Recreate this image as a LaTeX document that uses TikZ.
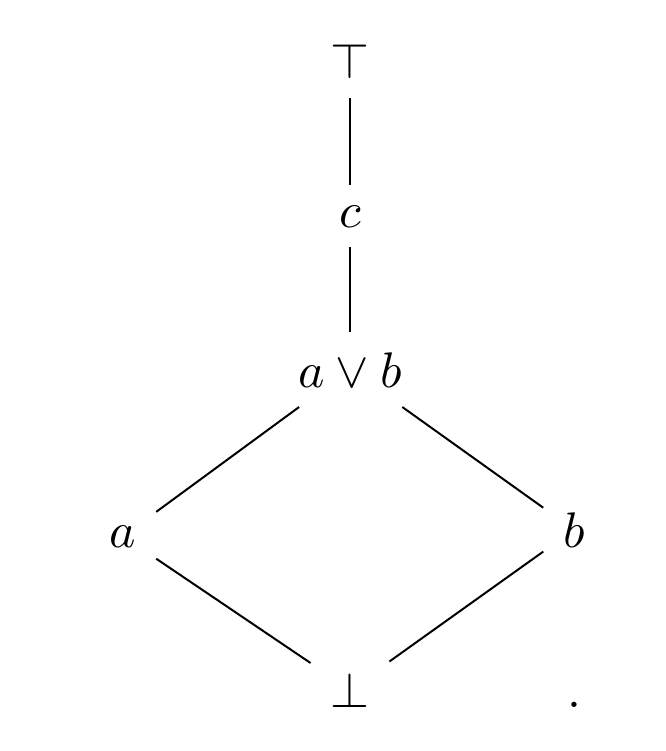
\documentclass[tikz,border=0pt]{standalone}
\begin{document}
\begin{tikzpicture}[x=0.2pt,y=-0.2pt,
  elem/.style={anchor=base,inner sep=3.8pt},
  edge/.style={draw,line width=0.4pt}]
\useasboundingbox (0,0) rectangle (666,751);
\node[elem] (top) at (350,78) {$\top$};
\node[elem] (c) at (350,227) {$c$};
\node[elem] (avb) at (350,387) {$a\vee b$};
\node[elem] (a) at (123,547) {$a$};
\node[elem] (b) at (574,547) {$b$};
\node[elem] (bot) at (350,707) {$\bot$};
\node[elem] (dot) at (574,707) {$.$};
\path[edge] (top) -- (c);
\path[edge] (c) -- (avb);
\path[edge] (avb) -- (a);
\path[edge] (avb) -- (b);
\path[edge] (a) -- (bot);
\path[edge] (b) -- (bot);
\end{tikzpicture}
\end{document}
